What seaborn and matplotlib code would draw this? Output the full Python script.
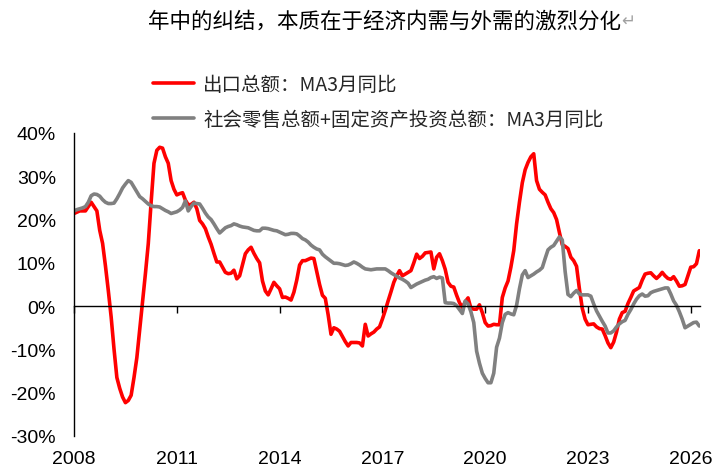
import numpy as np
import pandas as pd
import matplotlib
matplotlib.use("Agg")
import matplotlib.pyplot as plt
import seaborn as sns

sns.set_theme(style="white")
plt.rcParams['font.family'] = ['Liberation Sans', 'Noto Sans CJK SC', 'DejaVu Sans']

# monthly values, Jan 2008 .. Apr 2026 (%)
export_ma3 = [
    21.4, 21.7, 22.0, 22.0, 22.0, 23.0, 24.0, 23.0, 22.0, 17.5, 14.5, 9.3,      # 2008
    3.6, -2.5, -9.9, -16.5, -19.0, -21.0, -22.3, -21.8, -20.6, -16.5, -11.9, -5.5,  # 2009
    1.0, 7.5, 14.4, 24.0, 33.0, 36.0, 36.7, 36.5, 34.5, 33.0, 29.0, 27.0,      # 2010
    25.7, 26.0, 26.2, 24.5, 23.4, 23.5, 24.0, 22.5, 19.8, 19.0, 17.9, 16.0,    # 2011
    14.3, 12.2, 10.2, 10.2, 9.0, 7.8, 7.5, 7.6, 8.3, 6.3, 7.0, 9.5,            # 2012
    12.1, 13.0, 13.6, 12.2, 11.0, 10.0, 5.8, 3.5, 2.6, 4.0, 5.5, 4.7,          # 2013
    4.0, 2.0, 2.1, 1.8, 1.4, 3.2, 6.0, 9.5, 10.5, 10.5, 10.8, 11.1,            # 2014
    11.0, 8.0, 5.0, 2.5, 1.8, -2.0, -6.5, -5.0, -5.3, -5.8, -7.0, -8.2,        # 2015
    -9.2, -8.4, -8.4, -8.4, -8.5, -9.2, -4.2, -6.9, -6.4, -6.0, -5.3, -4.8,    # 2016
    -3.0, -1.0, 1.2, 3.3, 5.5, 7.0, 8.2, 7.0, 7.4, 7.8, 8.2, 10.0,             # 2017
    12.0, 11.0, 11.5, 12.3, 12.4, 12.5, 8.6, 11.3, 12.1, 10.5, 8.5, 5.5,       # 2018
    4.6, 4.4, 2.5, 0.8, -0.3, 1.0, 1.9, -0.5, -0.7, -0.7, 0.3, -1.5,           # 2019
    -3.8, -4.6, -4.5, -4.2, -4.3, -4.3, 2.0, 4.2, 5.8, 9.0, 12.8, 19.0,        # 2020
    24.0, 28.5, 31.5, 33.2, 34.5, 35.2, 29.0, 27.0, 26.3, 25.7, 24.0, 22.5,    # 2021
    21.6, 20.0, 17.0, 14.2, 13.8, 13.3, 11.3, 10.5, 9.2, 4.0, -0.5, -3.0,      # 2022
    -4.3, -4.2, -4.1, -4.8, -5.2, -5.3, -6.8, -8.5, -9.6, -8.3, -6.0, -3.0,    # 2023
    -1.5, -1.2, 0.6, 2.0, 3.5, 3.9, 4.3, 6.0, 7.4, 7.6, 7.7, 7.0,              # 2024
    6.4, 7.0, 7.8, 7.0, 6.4, 6.2, 6.8, 5.8, 4.6, 4.7, 5.0, 7.0,                # 2025
    9.0, 9.1, 9.8, 12.8,                                                        # 2026
]
domestic_ma3 = [
    22.0, 22.3, 22.5, 22.7, 23.0, 24.0, 25.5, 25.9, 25.8, 25.4, 24.6, 24.0,    # 2008
    23.7, 23.7, 23.8, 24.8, 26.0, 27.3, 28.2, 29.0, 28.6, 27.5, 26.4, 25.3,    # 2009
    24.8, 24.2, 23.6, 23.2, 23.0, 23.0, 22.9, 22.5, 22.1, 21.8, 21.4, 21.6,    # 2010
    21.8, 22.2, 22.8, 24.3, 22.0, 23.0, 23.8, 23.7, 23.6, 22.6, 21.5, 20.6,    # 2011
    20.0, 19.0, 17.9, 16.9, 17.5, 18.1, 18.4, 18.6, 19.0, 18.8, 18.5, 18.3,    # 2012
    18.2, 18.1, 17.8, 17.5, 17.4, 17.4, 18.0, 18.0, 17.9, 17.7, 17.5, 17.4,    # 2013
    17.1, 16.8, 16.5, 16.6, 16.8, 16.8, 16.7, 16.2, 15.6, 15.3, 14.8, 14.1,    # 2014
    13.6, 13.2, 13.0, 12.0, 11.4, 10.9, 10.4, 9.9, 9.9, 9.8, 9.6, 9.4,         # 2015
    9.5, 9.8, 10.2, 9.9, 9.5, 9.0, 8.6, 8.5, 8.4, 8.5, 8.6, 8.6,               # 2016
    8.6, 8.6, 8.2, 7.7, 7.3, 6.9, 6.5, 6.2, 5.8, 5.3, 4.3, 4.7,                # 2017
    5.1, 5.4, 5.7, 6.0, 6.2, 6.6, 6.8, 6.4, 6.7, 6.5, 0.8, 0.7,                # 2018
    0.7, 0.6, 0.1, -0.8, -1.7, 1.2, 0.5, -1.3, -3.8, -10.4, -13.2, -15.5,      # 2019
    -16.7, -17.7, -17.7, -15.5, -9.5, -7.4, -3.8, -1.9, -1.5, -1.8, -2.0, 0.2, # 2020
    4.0, 7.2, 8.2, 6.6, 7.0, 7.4, 7.9, 8.3, 8.9, 11.0, 13.0, 13.6,             # 2021
    14.0, 15.0, 16.0, 15.3, 8.0, 2.7, 2.2, 3.0, 3.6, 2.8, 2.6, 2.6,            # 2022
    2.6, 2.3, 0.5, -1.1, -2.3, -3.5, -4.6, -6.2, -6.2, -5.7, -4.8, -4.1,       # 2023
    -3.6, -3.3, -1.9, -0.8, 0.5, 1.6, 2.4, 2.8, 2.3, 2.4, 3.1, 3.4,            # 2024
    3.6, 3.8, 4.0, 4.2, 4.2, 2.8, 1.2, 0.2, -1.3, -3.0, -5.0, -4.6,            # 2025
    -4.2, -3.8, -3.7, -4.6,                                                     # 2026
]
series_names = ["出口总额：MA3月同比", "社会零售总额+固定资产投资总额：MA3月同比"]
series_colors = ["#FF0000", "#808080"]
xticks = [2008, 2011, 2014, 2017, 2020, 2023, 2026]
yticks = [-30, -20, -10, 0, 10, 20, 30, 40]
title = "年中的纠结，本质在于经济内需与外需的激烈分化"

t = 2008 + np.arange(len(export_ma3)) / 12.0
df = pd.DataFrame({"t": t, series_names[0]: export_ma3, series_names[1]: domestic_ma3})
long = df.melt(id_vars="t", var_name="series", value_name="value")

fig = plt.figure(figsize=(7.23, 4.77), dpi=100)
ax = fig.add_axes([0.1024, 0.0839, 0.8658, 0.6352])

sns.lineplot(data=long, x="t", y="value", hue="series", hue_order=series_names,
             palette=series_colors, linewidth=2.6, ax=ax, legend=True)

handles, labels = ax.get_legend_handles_labels()
ax.get_legend().remove()

ax.set_xlim(2008, 2026.27)
ax.set_ylim(-30, 40)
ax.set_xlabel("")
ax.set_ylabel("")

for s in ["top", "right"]:
    ax.spines[s].set_visible(False)
ax.spines["left"].set_color("black")
ax.spines["left"].set_linewidth(1)
ax.spines["bottom"].set_color("black")
ax.spines["bottom"].set_linewidth(1)
ax.spines["bottom"].set_position(("data", 0))

ax.set_xticks(xticks)
ax.tick_params(axis="x", direction="out", length=5, width=1, color="black",
               labelbottom=False, bottom=True)
for yr in xticks:
    ax.text(yr, -0.045, str(yr), transform=ax.get_xaxis_transform(),
            ha="center", va="top", fontsize=14, color="black")

ax.set_yticks(yticks)
ax.set_yticklabels([f"{v}%" for v in yticks])
ax.tick_params(axis="y", length=0, pad=13, labelsize=14, labelcolor="black")

cjk = ['Noto Sans CJK SC', 'DejaVu Sans']
ttl = fig.text(0.532, 0.955, title, ha="center", va="center", fontsize=15.5,
               family=cjk, color="black")
ax.annotate("↵", xy=(1, 0.5), xycoords=ttl, va="center", ha="left",
            fontsize=12, color="#a0a0a0", family=cjk, annotation_clip=False)

leg = fig.legend(handles, labels, loc="upper left", bbox_to_anchor=(0.187, 0.88),
                 frameon=False, handlelength=2.1, handletextpad=0.5,
                 labelspacing=0.72, prop={"family": cjk, "size": 14})

plt.savefig("out.png", dpi=100)
